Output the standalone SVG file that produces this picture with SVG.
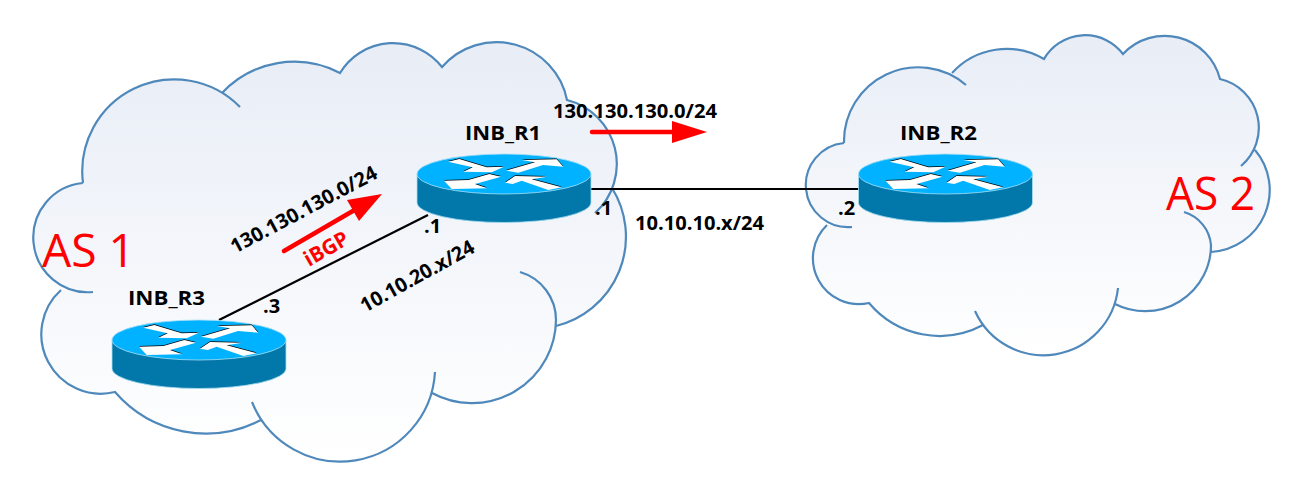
<svg xmlns="http://www.w3.org/2000/svg" xmlns:xlink="http://www.w3.org/1999/xlink" width="1301" height="480" viewBox="0 0 1301 480">
<style>
.cloud-line{fill:none;stroke:#4f88bb;stroke-width:2.2}
.lbl{font-family:"Open Sans","Noto Sans",sans-serif;font-weight:700;font-size:20px;fill:#000}
.as{font-family:"Open Sans","Noto Sans",sans-serif;font-weight:400;font-size:45px;fill:#f00}
.link{stroke:#000;stroke-width:2.2;fill:none}
.red{stroke:#f00;stroke-width:4.5;stroke-linecap:round;fill:none}
</style>
<defs>
<linearGradient id="g1" gradientUnits="userSpaceOnUse" x1="0" y1="43" x2="0" y2="459"><stop offset="0" stop-color="#e8edf6"/><stop offset="1" stop-color="#ffffff"/></linearGradient>
<linearGradient id="g2" gradientUnits="userSpaceOnUse" x1="0" y1="35" x2="0" y2="356"><stop offset="0" stop-color="#e8edf6"/><stop offset="1" stop-color="#ffffff"/></linearGradient>
<g id="router">
<path d="M-87,0V28.5A87,20 0 0 0 87,28.5V0Z" fill="#0277a9" stroke="#a8def2" stroke-width="0.8"/>
<ellipse cx="0" cy="0" rx="87" ry="20" fill="#00b2ff" stroke="#a8def2" stroke-width="0.8"/>
<g fill="#000" transform="translate(0,-0.8)">
<polygon points="-56,-12.3 -44.7,-15 -17.3,-6.7 0,-7.3 -12.3,-1.7 -40.7,-2.3 -31.3,-6.7"/>
<polygon points="17.7,-14 52.7,-14.7 59.3,-7.3 39,-9 14.3,-1.3 2,-3.3 31,-11.7"/>
<polygon points="-60,6.7 -35.7,6 -14.7,0 -3,2.7 -29,10 -16.7,14.3 -52.3,15"/>
<polygon points="1,8.7 11,2 43.3,2.7 27.7,5.3 57.7,13.3 44.3,16 17.7,6.7 8.7,10"/>
</g>
<g fill="#fff">
<polygon points="-56,-12.3 -44.7,-15 -17.3,-6.7 0,-7.3 -12.3,-1.7 -40.7,-2.3 -31.3,-6.7"/>
<polygon points="17.7,-14 52.7,-14.7 59.3,-7.3 39,-9 14.3,-1.3 2,-3.3 31,-11.7"/>
<polygon points="-60,6.7 -35.7,6 -14.7,0 -3,2.7 -29,10 -16.7,14.3 -52.3,15"/>
<polygon points="1,8.7 11,2 43.3,2.7 27.7,5.3 57.7,13.3 44.3,16 17.7,6.7 8.7,10"/>
</g>
</g>
</defs>
<rect width="1301" height="480" fill="#fff"/>
<g id="cloud-as1">
<path fill="url(#g1)" d="M83,183A92,92 0 0 1 240,107L222,93A99,99 0 0 1 340,73A62,62 0 0 1 442,67A72,72 0 0 1 567,100A66,66 0 0 1 595,213L612,188A92,92 0 0 1 556,326L520,272A50,50 0 0 1 556,320A84,84 0 0 1 432,393L435,372A95,95 0 0 1 252,402L261,420A120,120 0 0 1 115,392A59.5,59.5 0 0 1 61,290L93,292A54.7,54.7 0 0 1 83,183Z"/>
<path class="cloud-line" d="M83,183A92,92 0 0 1 240,107M222,93A99,99 0 0 1 340,73A62,62 0 0 1 442,67A72,72 0 0 1 567,100A66,66 0 0 1 595,213M612,188A92,92 0 0 1 556,326M520,272A50,50 0 0 1 556,320A84,84 0 0 1 432,393M435,372A95,95 0 0 1 252,402M261,420A120,120 0 0 1 115,392A59.5,59.5 0 0 1 61,290M93,292A54.7,54.7 0 0 1 83,183"/>
<text class="as" x="42" y="267" textLength="93" lengthAdjust="spacingAndGlyphs">AS 1</text>
</g>
<g id="cloud-as2">
<path fill="url(#g2)" d="M844,143A74,74 0 0 1 966,85L952,73A74,74 0 0 1 1044,59A47.5,47.5 0 0 1 1123,54A57,57 0 0 1 1220,79A50,50 0 0 1 1241,166L1255,150A62,62 0 0 1 1211,252L1184,212A38,38 0 0 1 1211,245A66,66 0 0 1 1115,304L1118,288A75,75 0 0 1 975,311L983,325A92,92 0 0 1 869,303A46,46 0 0 1 827,225L852,227A42.1,42.1 0 0 1 844,143Z"/>
<path class="cloud-line" d="M844,143A74,74 0 0 1 966,85M952,73A74,74 0 0 1 1044,59A47.5,47.5 0 0 1 1123,54A57,57 0 0 1 1220,79A50,50 0 0 1 1241,166M1255,150A62,62 0 0 1 1211,252M1184,212A38,38 0 0 1 1211,245A66,66 0 0 1 1115,304M1118,288A75,75 0 0 1 975,311M983,325A92,92 0 0 1 869,303A46,46 0 0 1 827,225M852,227A42.1,42.1 0 0 1 844,143"/>
<text class="as" x="1166" y="210" textLength="89" lengthAdjust="spacingAndGlyphs">AS 2</text>
</g>
<g id="connectors">
<line class="link" x1="591" y1="189" x2="859" y2="189"/>
<line class="link" x1="219" y1="320" x2="428" y2="215"/>
</g>
<g id="node-r1"><use xlink:href="#router" href="#router" x="504" y="174"/><text class="lbl" x="465" y="140" textLength="76" lengthAdjust="spacingAndGlyphs">INB_R1</text></g>
<g id="node-r2"><use xlink:href="#router" href="#router" x="945.5" y="174"/><text class="lbl" x="900" y="140" textLength="77" lengthAdjust="spacingAndGlyphs">INB_R2</text></g>
<g id="node-r3"><use xlink:href="#router" href="#router" x="199" y="340"/><text class="lbl" x="128" y="305" textLength="77" lengthAdjust="spacingAndGlyphs">INB_R3</text></g>
<g id="labels">
<text class="lbl" x="553" y="118" textLength="164" lengthAdjust="spacingAndGlyphs">130.130.130.0/24</text>
<text class="lbl" x="635" y="230" textLength="129" lengthAdjust="spacingAndGlyphs">10.10.10.x/24</text>
<text class="lbl" x="424" y="233">.1</text>
<text class="lbl" x="595" y="215">.1</text>
<text class="lbl" x="263" y="313">.3</text>
<text class="lbl" x="838" y="215">.2</text>
<text class="lbl" transform="translate(235,254) rotate(-28)" textLength="163" lengthAdjust="spacingAndGlyphs">130.130.130.0/24</text>
<text class="lbl" transform="translate(365,313) rotate(-29)" textLength="127" lengthAdjust="spacingAndGlyphs">10.10.20.x/24</text>
<text class="lbl" style="fill:#f00;font-size:21px" transform="translate(309,267) rotate(-30)" textLength="48" lengthAdjust="spacingAndGlyphs">iBGP</text>
</g>
<g id="red-arrows">
<line class="red" x1="284" y1="251" x2="358" y2="208"/>
<polygon fill="#f00" points="382,194 347,200 359,221"/>
<line class="red" x1="592" y1="132" x2="680" y2="132"/>
<polygon fill="#f00" points="707,132 672,121 672,143"/>
</g>
</svg>
